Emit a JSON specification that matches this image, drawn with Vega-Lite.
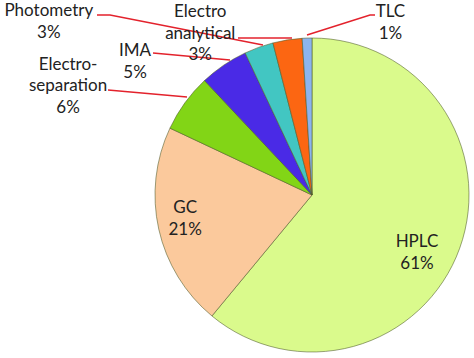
{
  "$schema": "https://vega.github.io/schema/vega-lite/v6.json",
  "width": 314,
  "height": 314,
  "autosize": {"type": "none"},
  "padding": {"left": 155, "top": 38, "right": 5, "bottom": 6},
  "background": "white",
  "view": {"stroke": null},
  "config": {"text": {"font": "Lato", "fontSize": 17, "color": "#222222", "align": "center", "baseline": "middle", "lineBreak": "\n", "lineHeight": 21.5}},
  "datasets": {
    "shares": [
      {"category": "HPLC", "value": 61, "label": "HPLC\n61%"},
      {"category": "GC", "value": 21, "label": "GC\n21%"},
      {"category": "Electro-separation", "value": 6, "label": "Electro-\nseparation\n6%"},
      {"category": "IMA", "value": 5, "label": "IMA\n5%"},
      {"category": "Photometry", "value": 3, "label": "Photometry\n3%"},
      {"category": "Electro analytical", "value": 3, "label": "Electro\nanalytical\n3%"},
      {"category": "TLC", "value": 1, "label": "TLC\n1%"}
    ],
    "leaders": [
      {"category": "Photometry", "seq": 1, "x": -215, "y": 180},
      {"category": "Photometry", "seq": 2, "x": -202, "y": 180},
      {"category": "Photometry", "seq": 3, "x": -49, "y": 150},
      {"category": "Electro analytical", "seq": 1, "x": -74, "y": 157},
      {"category": "Electro analytical", "seq": 2, "x": -20, "y": 157},
      {"category": "TLC", "seq": 1, "x": 63, "y": 180},
      {"category": "TLC", "seq": 2, "x": 58, "y": 180},
      {"category": "TLC", "seq": 3, "x": -5, "y": 160},
      {"category": "IMA", "seq": 1, "x": -159, "y": 142},
      {"category": "IMA", "seq": 2, "x": -82, "y": 135},
      {"category": "Electro-separation", "seq": 1, "x": -204, "y": 105},
      {"category": "Electro-separation", "seq": 2, "x": -125, "y": 98}
    ]
  },
  "layer": [
    {
      "data": {"name": "shares"},
      "transform": [{"stack": "value", "groupby": [], "as": ["v0", "v1"]}],
      "mark": {"type": "arc", "stroke": "#4d5a2a", "strokeWidth": 0.7, "strokeOpacity": 0.8},
      "encoding": {
        "theta": {"field": "v0", "type": "quantitative", "scale": {"domain": [0, 100]}},
        "theta2": {"field": "v1"},
        "color": {
          "field": "category", "type": "nominal", "legend": null,
          "scale": {
            "domain": ["HPLC", "GC", "Electro-separation", "IMA", "Photometry", "Electro analytical", "TLC"],
            "range": ["#dafa8c", "#fbc99c", "#82d516", "#4a2ae6", "#42c6c2", "#fc6612", "#8cb4ee"]
          }
        }
      }
    },
    {
      "data": {"name": "leaders"},
      "mark": {"type": "line", "color": "#e3222c", "strokeWidth": 1.5},
      "encoding": {
        "x": {"field": "x", "type": "quantitative", "axis": null, "scale": {"domain": [-157, 157], "nice": false, "zero": false}},
        "y": {"field": "y", "type": "quantitative", "axis": null, "scale": {"domain": [-157, 157], "nice": false, "zero": false}},
        "detail": {"field": "category"},
        "order": {"field": "seq"}
      }
    },
    {
      "data": {"name": "shares"},
      "transform": [{"stack": "value", "groupby": [], "as": ["v0", "v1"]}, {"filter": "datum.category === 'HPLC'"}],
      "mark": {"type": "text", "radius": 0, "dx": 105, "dy": 47},
      "encoding": {"theta": {"field": "v0", "type": "quantitative"}, "text": {"field": "label"}}
    },
    {
      "data": {"name": "shares"},
      "transform": [{"stack": "value", "groupby": [], "as": ["v0", "v1"]}, {"filter": "datum.category === 'GC'"}],
      "mark": {"type": "text", "radius": 130, "dx": -44, "dy": -87},
      "encoding": {"theta": {"field": "v0", "type": "quantitative"}, "text": {"field": "label"}}
    },
    {
      "data": {"name": "shares"},
      "transform": [{"stack": "value", "groupby": [], "as": ["v0", "v1"]}, {"filter": "datum.category === 'Electro-separation'"}],
      "mark": {"type": "text", "radius": 200, "dx": -63, "dy": -45},
      "encoding": {"theta": {"field": "v0", "type": "quantitative"}, "text": {"field": "label"}}
    },
    {
      "data": {"name": "shares"},
      "transform": [{"stack": "value", "groupby": [], "as": ["v0", "v1"]}, {"filter": "datum.category === 'IMA'"}],
      "mark": {"type": "text", "radius": 200, "dx": -40, "dy": 2},
      "encoding": {"theta": {"field": "v0", "type": "quantitative"}, "text": {"field": "label"}}
    },
    {
      "data": {"name": "shares"},
      "transform": [{"stack": "value", "groupby": [], "as": ["v0", "v1"]}, {"filter": "datum.category === 'Photometry'"}],
      "mark": {"type": "text", "radius": 200, "dx": -178, "dy": -3},
      "encoding": {"theta": {"field": "v0", "type": "quantitative"}, "text": {"field": "label"}}
    },
    {
      "data": {"name": "shares"},
      "transform": [{"stack": "value", "groupby": [], "as": ["v0", "v1"]}, {"filter": "datum.category === 'Electro analytical'"}],
      "mark": {"type": "text", "radius": 200, "dx": -62, "dy": 11},
      "encoding": {"theta": {"field": "v0", "type": "quantitative"}, "text": {"field": "label"}}
    },
    {
      "data": {"name": "shares"},
      "transform": [{"stack": "value", "groupby": [], "as": ["v0", "v1"]}, {"filter": "datum.category === 'TLC'"}],
      "mark": {"type": "text", "radius": 200, "dx": 91, "dy": 17},
      "encoding": {"theta": {"field": "v0", "type": "quantitative"}, "text": {"field": "label"}}
    }
  ]
}
